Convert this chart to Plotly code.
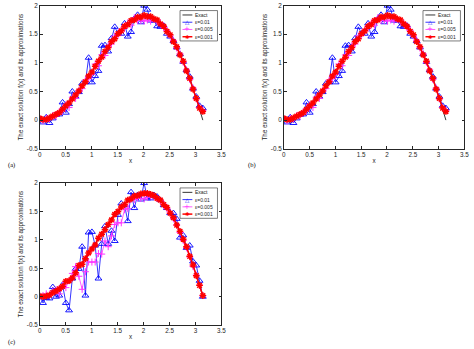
import plotly.graph_objects as go

W, H = 474, 349

x_grid = [0.000, 0.063, 0.126, 0.188, 0.251, 0.314, 0.377, 0.440, 0.503, 0.565,
          0.628, 0.691, 0.754, 0.817, 0.880, 0.942, 1.005, 1.068, 1.131, 1.194,
          1.257, 1.319, 1.382, 1.445, 1.508, 1.571, 1.634, 1.696, 1.759, 1.822,
          1.885, 1.948, 2.011, 2.073, 2.136, 2.199, 2.262, 2.325, 2.388, 2.450,
          2.513, 2.576, 2.639, 2.702, 2.765, 2.827, 2.890, 2.953, 3.016, 3.079, 3.142]

exact = [0.00, 0.00, 0.02, 0.04, 0.06, 0.10, 0.14, 0.19, 0.24, 0.30,
         0.37, 0.44, 0.52, 0.60, 0.68, 0.76, 0.85, 0.94, 1.02, 1.11,
         1.20, 1.28, 1.36, 1.43, 1.51, 1.57, 1.63, 1.68, 1.73, 1.76,
         1.79, 1.81, 1.82, 1.82, 1.80, 1.78, 1.74, 1.69, 1.63, 1.56,
         1.48, 1.38, 1.27, 1.15, 1.02, 0.87, 0.72, 0.55, 0.38, 0.19, 0.00]

# panels (a) and (b)
ab_eps01 = [0.02, -0.04, 0.05, -0.05, 0.03, 0.09, 0.10, 0.31, 0.13, 0.28,
            0.50, 0.41, 0.49, 0.64, 0.66, 1.09, 0.66, 0.77, 0.86, 1.30,
            1.31, 1.20, 1.43, 1.63, 1.51, 1.51, 1.69, 1.46, 1.54, 1.77,
            1.84, 1.71, 2.00, 1.93, 1.74, 1.74, 1.64, 1.63, 1.65, 1.51,
            1.46, 1.38, 1.27, 1.15, 1.02, 0.87, 0.76, 0.55, 0.41, 0.25, 0.21]
ab_eps005 = [0.02, -0.01, 0.03, 0.02, 0.08, 0.07, 0.15, 0.16, 0.27, 0.22,
             0.40, 0.38, 0.52, 0.55, 0.70, 0.72, 0.80, 0.98, 0.95, 1.14,
             1.13, 1.30, 1.33, 1.47, 1.48, 1.58, 1.60, 1.70, 1.66, 1.79,
             1.74, 1.74, 1.73, 1.75, 1.73, 1.76, 1.72, 1.70, 1.62, 1.57,
             1.47, 1.39, 1.26, 1.16, 1.01, 0.88, 0.71, 0.56, 0.37, 0.22, 0.17]
ab_eps001 = [0.03, 0.01, 0.01, 0.04, 0.07, 0.10, 0.13, 0.19, 0.25, 0.30,
             0.37, 0.44, 0.51, 0.60, 0.67, 0.77, 0.84, 0.94, 1.03, 1.10,
             1.20, 1.27, 1.37, 1.42, 1.51, 1.56, 1.64, 1.67, 1.74, 1.75,
             1.80, 1.80, 1.83, 1.81, 1.81, 1.77, 1.75, 1.68, 1.64, 1.55,
             1.49, 1.37, 1.28, 1.14, 1.03, 0.86, 0.73, 0.54, 0.38, 0.21, 0.15]

# panel (c)
c_eps01 = [0.01, -0.11, -0.02, -0.03, 0.17, 0.00, 0.02, 0.21, -0.11, -0.24,
           0.32, 0.49, 0.49, 0.88, 0.02, 1.13, 1.14, 0.90, 0.32, 0.93,
           1.24, 0.93, 1.16, 0.98, 1.44, 1.64, 1.61, 1.33, 1.84, 1.56,
           1.79, 1.71, 2.00, 1.73, 1.73, 1.79, 1.76, 1.70, 1.61, 1.56,
           1.47, 1.47, 1.37, 1.04, 1.08, 0.86, 0.90, 0.62, 0.55, 0.28, 0.00]
c_eps005 = [0.00, 0.02, 0.05, 0.03, 0.10, 0.12, 0.05, 0.20, 0.16, 0.28,
            0.41, 0.53, 0.36, 0.13, 0.44, 0.61, 0.61, 0.61, 0.76, 0.75,
            0.98, 0.88, 1.07, 1.27, 1.30, 1.30, 1.53, 1.55, 1.72, 1.71,
            1.74, 1.73, 1.72, 1.75, 1.77, 1.76, 1.73, 1.69, 1.63, 1.55,
            1.47, 1.37, 1.26, 1.13, 0.99, 0.86, 0.70, 0.53, 0.38, 0.20, 0.02]
c_eps001 = [0.01, 0.00, 0.01, 0.03, 0.07, 0.10, 0.14, 0.18, 0.27, 0.28,
            0.33, 0.42, 0.55, 0.57, 0.67, 0.77, 0.84, 0.91, 1.03, 1.10,
            1.18, 1.27, 1.35, 1.45, 1.50, 1.58, 1.62, 1.70, 1.72, 1.77,
            1.78, 1.81, 1.82, 1.82, 1.80, 1.78, 1.73, 1.70, 1.62, 1.57,
            1.47, 1.39, 1.26, 1.15, 1.01, 0.88, 0.71, 0.56, 0.37, 0.20, 0.02]

series_names = ["Exact", "\u03b5=0.01", "\u03b5=0.005", "\u03b5=0.001"]
x_tick_vals = [0, 0.5, 1, 1.5, 2, 2.5, 3, 3.5]
x_tick_text = ["0", "0.5", "1", "1.5", "2", "2.5", "3", "3.5"]
y_tick_vals = [-0.5, 0, 0.5, 1, 1.5, 2]
y_tick_text = ["-0.5", "0", "0.5", "1", "1.5", "2"]
panel_labels = ["(a)", "(b)", "(c)"]

AXC = "#262626"
FONT = "Liberation Sans"

# pixel geometry of the three axes boxes: (left, right, top, bottom)
boxes = [(38.3, 222.7, 1.7, 147.7),
         (286.0, 469.3, 1.7, 147.7),
         (38.3, 222.7, 182.7, 327.7)]
label_pos = [(4, 164), (248, 164), (4, 345)]

datasets = [(ab_eps01, ab_eps005, ab_eps001),
            (ab_eps01, ab_eps005, ab_eps001),
            (c_eps01, c_eps005, c_eps001)]

fig = go.Figure()

def px(xp):
    return xp / W

def py(yp):
    return 1 - yp / H

shapes = []
annotations = []
layout_axes = {}

for i, ((l, r, t, b), (e01, e005, e001)) in enumerate(zip(boxes, datasets)):
    sx = "" if i == 0 else str(i + 1)
    xa, ya = "x" + sx, "y" + sx
    fig.add_trace(go.Scatter(x=x_grid, y=exact, mode="lines", xaxis=xa, yaxis=ya,
                             line=dict(color="black", width=0.8), showlegend=False))
    fig.add_trace(go.Scatter(x=x_grid, y=e01, mode="lines+markers", xaxis=xa, yaxis=ya,
                             line=dict(color="#0000ff", width=0.8),
                             marker=dict(symbol="triangle-up-open", size=6,
                                         color="#0000ff", line=dict(width=0.9, color="#0000ff")),
                             showlegend=False))
    fig.add_trace(go.Scatter(x=x_grid, y=e005, mode="lines+markers", xaxis=xa, yaxis=ya,
                             line=dict(color="#ff33ff", width=0.8),
                             marker=dict(symbol="cross-thin-open", size=5,
                                         color="#ff33ff", line=dict(width=1, color="#ff33ff")),
                             showlegend=False))
    fig.add_trace(go.Scatter(x=x_grid, y=e001, mode="lines+markers", xaxis=xa, yaxis=ya,
                             line=dict(color="#ff0000", width=1.5),
                             marker=dict(symbol="asterisk-open", size=5.5,
                                         color="#ff0000", line=dict(width=1.5, color="#ff0000")),
                             showlegend=False))

    common = dict(ticks="inside", ticklen=3, tickwidth=0.6, tickcolor=AXC,
                  showline=True, linecolor=AXC, linewidth=0.6, mirror="ticks",
                  showgrid=False, zeroline=False,
                  tickfont=dict(size=6.3, family=FONT, color=AXC))
    xd = dict(common, domain=[px(l), px(r)], range=[0, 3.5],
              tickvals=x_tick_vals, ticktext=x_tick_text, anchor=ya,
              title=dict(text="x", font=dict(size=6.3, family=FONT, color=AXC), standoff=1))
    yd = dict(common, domain=[py(b), py(t)], range=[-0.5, 2],
              tickvals=y_tick_vals, ticktext=y_tick_text, anchor=xa,
              title=dict(text="The exact solution f(x) and its approximations",
                         font=dict(size=6.3, family=FONT, color=AXC), standoff=2))
    layout_axes["xaxis" + sx] = xd
    layout_axes["yaxis" + sx] = yd

    # legend box
    bx0, bx1 = r - 42, r - 4
    by0, by1 = t + 5, t + 36
    shapes.append(dict(type="rect", xref="paper", yref="paper",
                       x0=px(bx0), x1=px(bx1), y0=py(by0), y1=py(by1),
                       line=dict(color=AXC, width=0.6), fillcolor="white", layer="above"))
    cols = ["black", "#0000ff", "#ff33ff", "#ff0000"]
    widths = [0.8, 0.8, 0.8, 1.5]
    syms = ["", "\u25b3", "+", "\u2731"]
    sym_sizes = [5, 5.5, 7, 5.5]
    for j, name in enumerate(series_names):
        yy = by0 + 4.5 + j * 7.4
        shapes.append(dict(type="line", xref="paper", yref="paper",
                           x0=px(bx0 + 2.5), x1=px(bx0 + 12.5), y0=py(yy), y1=py(yy),
                           line=dict(color=cols[j], width=widths[j]), layer="above"))
        if syms[j]:
            annotations.append(dict(xref="paper", yref="paper", x=px(bx0 + 7.5), y=py(yy),
                                    text=syms[j], showarrow=False, xanchor="center",
                                    yanchor="middle",
                                    font=dict(size=sym_sizes[j], color=cols[j], family="DejaVu Sans")))
        annotations.append(dict(xref="paper", yref="paper", x=px(bx0 + 13.5), y=py(yy),
                                text=name, showarrow=False, xanchor="left", yanchor="middle",
                                font=dict(size=5, color=AXC, family=FONT)))

    lx, ly = label_pos[i]
    annotations.append(dict(xref="paper", yref="paper", x=px(lx), y=py(ly),
                            text=panel_labels[i], showarrow=False, xanchor="left",
                            yanchor="middle",
                            font=dict(size=6.5, color="black", family="Liberation Serif")))

fig.update_layout(width=W, height=H, margin=dict(l=0, r=0, t=0, b=0),
                  paper_bgcolor="white", plot_bgcolor="white",
                  shapes=shapes, annotations=annotations, **layout_axes)

fig.write_html("out.html")
